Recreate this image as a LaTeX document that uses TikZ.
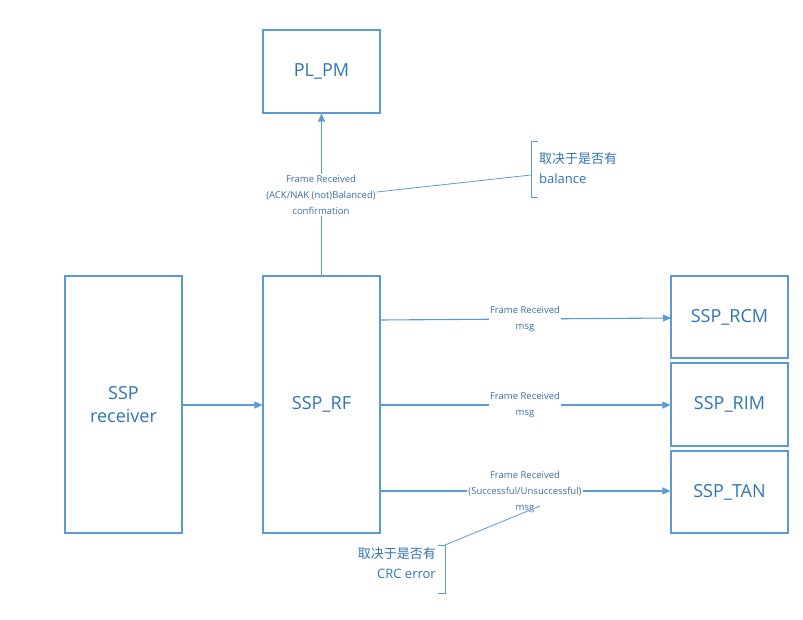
\documentclass[tikz,border=0pt]{standalone}
\usepackage{fontspec}
\setmainfont{Open Sans}
\newfontfamily\cjk{Noto Sans CJK SC}
\usetikzlibrary{arrows.meta}
\definecolor{edge}{HTML}{5B9BD5}
\definecolor{ink}{HTML}{2E75B6}
\definecolor{lbl}{HTML}{3A6EA5}
\begin{document}
\begin{tikzpicture}[x=1pt,y=-1pt,
  box/.style={draw=edge, line width=1.1pt, fill=white, inner sep=0pt, text=ink,
    font=\fontsize{18}{23}\selectfont, align=center},
  arr/.style={draw=edge, line width=1.1pt, -{Triangle[length=8pt,width=7pt]}},
  lab/.style={font=\fontsize{9.5}{16}\selectfont, text=lbl, align=center, fill=white, inner sep=1pt},
  note/.style={font=\fontsize{13}{20}\selectfont, text=ink, align=left, inner sep=1pt},
  brk/.style={draw=edge, line width=0.8pt}]
\useasboundingbox (0,0) rectangle (803,620);
\node[box, minimum width=117pt, minimum height=83pt] (pm) at (321.5,71.5) {PL\_PM};
\node[box, minimum width=117pt, minimum height=257pt] (rx) at (123.5,404.5) {SSP\\receiver};
\node[box, minimum width=117pt, minimum height=257pt] (rf) at (321.5,404.5) {SSP\_RF};
\node[box, minimum width=117pt, minimum height=82pt] (rcm) at (729.5,317) {SSP\_RCM};
\node[box, minimum width=117pt, minimum height=83pt] (rim) at (729.5,404.5) {SSP\_RIM};
\node[box, minimum width=117pt, minimum height=82pt] (tan) at (729.5,492) {SSP\_TAN};
\draw[arr] (rx.east |- 0,405) coordinate (a1) -- (rf.west |- a1);
\draw[arr] (rf.north) -- (pm.south);
\coordinate (s1) at (380,320); \coordinate (e1) at (671,318);
\draw[arr] (s1) -- (e1);
\draw[arr] (rf.east |- 0,405) coordinate (s2) -- (rim.west |- s2);
\draw[arr] (rf.east |- 0,491) coordinate (s3) -- (tan.west |- s3);
\node[lab] (l0) at (321,195) {Frame Received\\(ACK/NAK (not)Balanced)\\confirmation};
\node[lab] (l1) at (525,319) {Frame Received\\msg};
\node[lab] (l2) at (525,405) {Frame Received\\msg};
\node[lab] (l3) at (525,492) {Frame Received\\(Successful/Unsuccessful)\\msg};
% note 1
\draw[brk] (538,141) -- (531,141) -- (531,197) -- (538,197);
\coordinate (b1) at (531,175);
\node[note, anchor=west] (n1) at (538,168) {{\cjk 取决于是否有}\\balance};
\draw[brk] (b1) -- (l0.east |- 0,192);
% note 2
\draw[brk] (438,545) -- (445,545) -- (445,593) -- (438,593);
\coordinate (b2) at (445,545);
\node[note, anchor=east, align=right] (n2) at (437,563) {{\cjk 取决于是否有}\\CRC error};
\draw[brk] (b2) -- (540,506);
\end{tikzpicture}
\end{document}
